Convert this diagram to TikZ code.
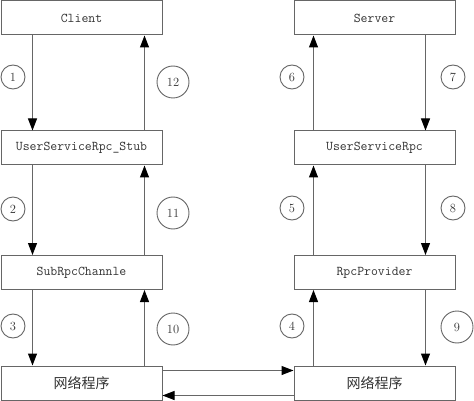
\documentclass[tikz,border=0pt]{standalone}
\usepackage{fontspec}
\newfontfamily\cjk{Noto Sans CJK SC}
\usetikzlibrary{arrows.meta}
\definecolor{ln}{HTML}{666666}
\definecolor{tx}{HTML}{333333}
\tikzset{
  box/.style={draw=ln, line width=1pt, minimum width=161pt, minimum height=34pt, inner sep=0pt,
    text=tx, font=\fontsize{13.4}{16}\selectfont\ttfamily},
  cjkbox/.style={box, font=\fontsize{14}{16}\selectfont\cjk},
  arr/.style={draw=ln, line width=1pt, -{Triangle[length=12pt,width=9pt,fill=black,color=black]}},
  numc/.style={circle, draw=ln, line width=0.9pt, minimum size=24pt, inner sep=0pt,
    text=tx, font=\fontsize{12.5}{14}\selectfont},
  numcb/.style={numc, minimum size=32pt}
}
\begin{document}
\begin{tikzpicture}[x=1pt,y=-1pt]
\useasboundingbox[fill=white] (0,0) rectangle (474,401);
% left column
\node[box] (client) at (81.5,18) {Client};
\node[box] (stub) at (81.5,148) {UserServiceRpc\_Stub};
\node[box] (chan) at (81.5,272.5) {SubRpcChannle};
\node[cjkbox] (lnet) at (81.5,383) {网络程序};
% right column
\node[box] (server) at (374.5,18) {Server};
\node[box] (usr) at (374.5,148) {UserServiceRpc};
\node[box] (prov) at (374.5,272.5) {RpcProvider};
\node[cjkbox] (rnet) at (374.5,383) {网络程序};
% left arrows
\draw[arr] ([xshift=32pt]client.south west) -- ([xshift=32pt]stub.north west);
\draw[arr] ([xshift=32pt]stub.south west) -- ([xshift=32pt]chan.north west);
\draw[arr] ([xshift=32pt]chan.south west) -- ([xshift=32pt]lnet.north west);
\draw[arr] ([xshift=-18pt]stub.north east) -- ([xshift=-18pt]client.south east);
\draw[arr] ([xshift=-18pt]chan.north east) -- ([xshift=-18pt]stub.south east);
\draw[arr] ([xshift=-18pt]lnet.north east) -- ([xshift=-18pt]chan.south east);
% right arrows
\draw[arr] ([xshift=20pt]usr.north west) -- ([xshift=20pt]server.south west);
\draw[arr] ([xshift=20pt]prov.north west) -- ([xshift=20pt]usr.south west);
\draw[arr] ([xshift=20pt]rnet.north west) -- ([xshift=20pt]prov.south west);
\draw[arr] ([xshift=-30pt]server.south east) -- ([xshift=-30pt]usr.north east);
\draw[arr] ([xshift=-30pt]usr.south east) -- ([xshift=-30pt]prov.north east);
\draw[arr] ([xshift=-30pt]prov.south east) -- ([xshift=-30pt]rnet.north east);
% horizontal
\draw[arr] ([yshift=-5pt]lnet.north east) -- ([yshift=-5pt]rnet.north west);
\draw[arr] ([yshift=-30pt]rnet.north west) -- ([yshift=-30pt]lnet.north east);
% number circles
\node[numc] (n1) at (13,77) {1};
\node[numc] (n2) at (13,209) {2};
\node[numc] (n3) at (13,326) {3};
\node[numcb] (n12) at (173,82) {12};
\node[numcb] (n11) at (173,213) {11};
\node[numcb] (n10) at (173,329) {10};
\node[numc] (n6) at (292,77) {6};
\node[numc] (n5) at (292,208) {5};
\node[numc] (n4) at (292,326) {4};
\node[numc] (n7) at (453,77) {7};
\node[numc] (n8) at (453,208) {8};
\node[numcb] (n9) at (457,327) {9};
\end{tikzpicture}
\end{document}
